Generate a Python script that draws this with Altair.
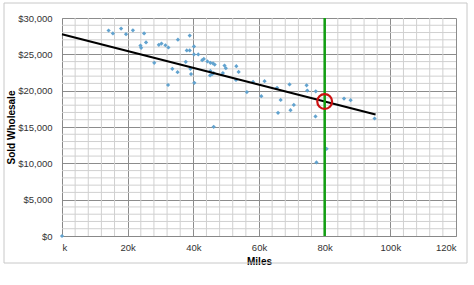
import altair as alt
import pandas as pd

miles_k = [14.2, 15.5, 18.0, 19.5, 21.6, 25.0, 23.9, 24.1, 25.6, 28.1,
           29.5, 30.3, 31.5, 32.4, 32.3, 33.6, 35.2, 35.3, 38.9, 38.0,
           38.9, 40.2, 40.2, 41.5, 37.7, 39.1, 39.3, 40.3, 42.7, 43.2,
           44.3, 45.2, 46.0, 46.5, 45.2, 45.7, 45.1, 46.2, 46.2, 49.0,
           49.5, 49.9, 53.1, 53.8, 53.0, 56.3, 58.2, 61.7, 60.7, 65.5,
           66.6, 65.8, 69.3, 70.6, 69.6, 74.5, 74.7, 77.3, 77.2, 85.9,
           87.9, 95.2, 80.6, 77.5, 0.0]
price_k = [28.28, 27.87, 28.55, 27.77, 28.31, 27.87, 26.21, 25.90, 26.63, 23.83,
           26.31, 26.49, 26.25, 25.94, 20.78, 23.01, 22.54, 27.01, 27.59, 25.53,
           25.53, 26.08, 24.98, 24.98, 23.97, 23.01, 22.29, 21.08, 24.19, 24.36,
           24.02, 23.84, 23.74, 23.60, 22.71, 22.27, 22.09, 22.43, 15.03, 22.43,
           23.46, 23.09, 23.37, 22.57, 21.47, 19.80, 21.20, 21.31, 19.24, 20.40,
           18.72, 16.96, 20.85, 18.03, 17.31, 20.74, 20.02, 19.91, 16.45, 18.92,
           18.69, 16.17, 12.00, 10.13, 0.00]

trend_miles = [0, 95500]
trend_price = [27770, 16720]

marker_miles = [80000]
marker_price = [18514]

x_major = [0, 20000, 40000, 60000, 80000, 100000, 120000]
y_major = [0, 5000, 10000, 15000, 20000, 25000, 30000]
x_minor = [v for v in range(0, 120001, 4000) if v % 20000 != 0]
y_minor = [v for v in range(0, 30001, 1000) if v % 5000 != 0]

pts = pd.DataFrame({"miles": [m * 1000 for m in miles_k],
                    "price": [p * 1000 for p in price_k]})
trend = pd.DataFrame({"miles": trend_miles, "price": trend_price})
marker = pd.DataFrame({"miles": marker_miles, "price": marker_price})

FONT = "Liberation Sans"

xscale = alt.Scale(domain=[0, 120000], nice=False, zero=True)
yscale = alt.Scale(domain=[0, 30000], nice=False, zero=True)

xaxis = alt.Axis(
    values=x_major,
    title="Miles",
    titleFont=FONT, titleFontSize=10, titleFontWeight="bold", titleColor="#000",
    titlePadding=5,
    labelFont=FONT, labelFontSize=9.5, labelColor="#333", labelPadding=6,
    labelOverlap=False,
    labelExpr="datum.value === 0 ? 'k' : format(datum.value/1000, 'd') + 'k'",
    ticks=False,
    domainColor="#888",
    gridColor="#8c8c8c", gridWidth=1, gridOpacity=1,
)
yaxis = alt.Axis(
    values=y_major,
    title="Sold Wholesale",
    titleFont=FONT, titleFontSize=10, titleFontWeight="bold", titleColor="#000",
    titleX=-46, titleY=109,
    labelFont=FONT, labelFontSize=9.5, labelColor="#333", labelPadding=10,
    labelOverlap=False,
    labelExpr="'$' + format(datum.value, ',')",
    ticks=False,
    domainColor="#888",
    gridColor="#8c8c8c", gridWidth=1, gridOpacity=1,
)

frame = alt.Chart(pd.DataFrame({"a": [0]})).mark_rect(
    fill="transparent", stroke="#c8c8c8", strokeWidth=1
).encode(x=alt.value(-58), x2=alt.value(405), y=alt.value(-15), y2=alt.value(245))

vgrid = alt.Chart(pd.DataFrame({"miles": x_minor})).mark_rule(
    color="#d0d0d0", strokeWidth=1
).encode(x=alt.X("miles:Q", scale=xscale, axis=xaxis))

hgrid = alt.Chart(pd.DataFrame({"price": y_minor})).mark_rule(
    color="#d0d0d0", strokeWidth=1
).encode(y=alt.Y("price:Q", scale=yscale, axis=yaxis))

points = alt.Chart(pts).mark_point(
    shape="diamond", filled=True, size=18, color="#62a3cf", opacity=1
).encode(
    x=alt.X("miles:Q", scale=xscale, axis=xaxis),
    y=alt.Y("price:Q", scale=yscale, axis=yaxis),
)

line = alt.Chart(trend).mark_line(color="#000000", strokeWidth=2).encode(
    x=alt.X("miles:Q", scale=xscale, axis=xaxis),
    y=alt.Y("price:Q", scale=yscale, axis=yaxis),
)

vline = alt.Chart(marker).mark_rule(color="#12a012", strokeWidth=2.5).encode(
    x=alt.X("miles:Q", scale=xscale, axis=xaxis),
)

circle = alt.Chart(marker).mark_point(
    shape="circle", filled=False, size=220, color="#cc1111", strokeWidth=2.2, opacity=1
).encode(
    x=alt.X("miles:Q", scale=xscale, axis=xaxis),
    y=alt.Y("price:Q", scale=yscale, axis=yaxis),
)

chart = alt.layer(frame, vgrid, hgrid, points, line, vline, circle).properties(
    width=394, height=218,
    autosize=alt.AutoSizeParams(type="none"),
    padding={"left": 62, "top": 18, "right": 18, "bottom": 49},
    background="white",
).configure_view(stroke=None)

chart.save("out.html", embed_options={"renderer": "svg", "actions": False})
